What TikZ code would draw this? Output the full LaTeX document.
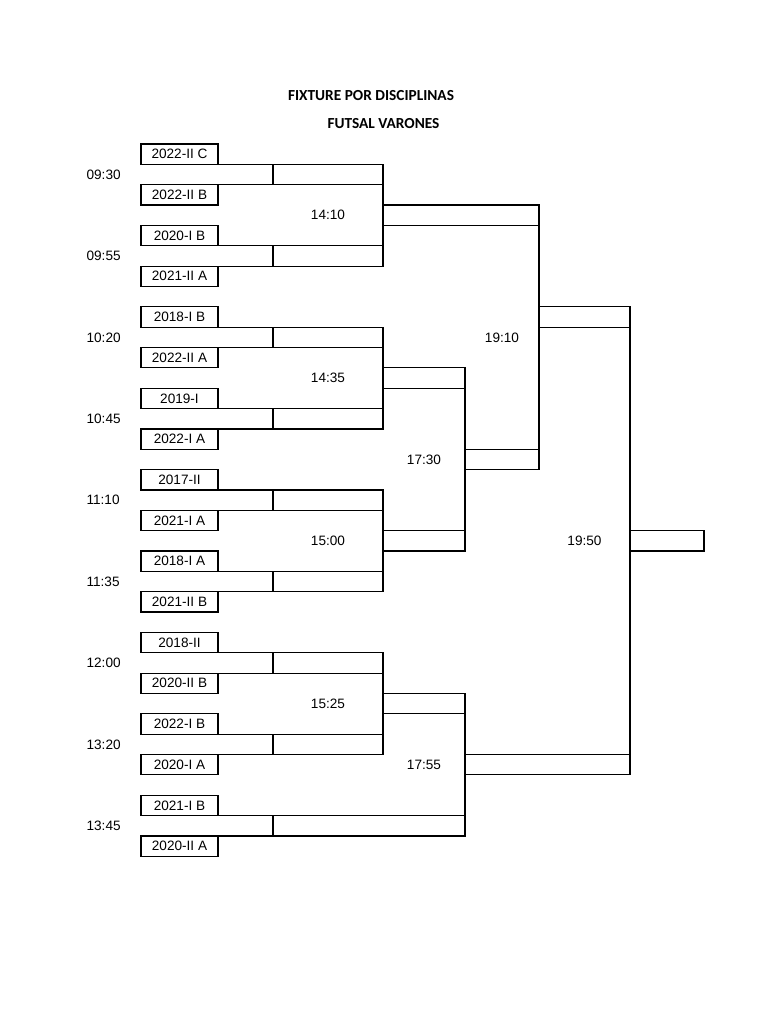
\documentclass[tikz,border=0pt]{standalone}
\usepackage{fontspec}
\setmainfont{Liberation Sans}
\newfontfamily\calib{Carlito}
\usetikzlibrary{positioning}

\begin{document}
\begin{tikzpicture}[x=0.75pt, y=-0.75pt, line width=0.9pt,
  team/.style={draw, minimum width=57.75pt, minimum height=15.26pt, inner sep=0pt, outer sep=0pt,
               font=\fontsize{10.2}{12}\selectfont},
  cell/.style={draw, minimum width=#1*0.75pt, minimum height=15.26pt, inner sep=0pt, outer sep=0pt},
  hora/.style={inner sep=0pt, font=\fontsize{10.2}{12}\selectfont},
  titulo/.style={inner sep=0pt, font=\calib\bfseries\fontsize{11.5}{14}\selectfont},
]
\def\rh{20.35}
\def\yo{154.175}
\useasboundingbox (0,0) rectangle (768,1024);

\node[titulo] (tit1) at (371,96)  {FIXTURE POR DISCIPLINAS};
\node[titulo] (tit2) at (383.5,124) {FUTSAL VARONES};

% equipos
\foreach \k/\n in {0/2022-II C,2/2022-II B,4/2020-I B,6/2021-II A,8/2018-I B,10/2022-II A,
                   12/2019-I,14/2022-I A,16/2017-II,18/2021-I A,20/2018-I A,22/2021-II B,
                   24/2018-II,26/2020-II B,28/2022-I B,30/2020-I A,32/2021-I B,34/2020-II A}
  \node[team] (t\k) at (179.5,{\yo+\rh*\k}) {\n};

% horas primera ronda
\foreach \k/\h in {1/09:30,5/09:55,9/10:20,13/10:45,17/11:10,21/11:35,25/12:00,29/13:20,33/13:45}
  \node[hora, anchor=west] (h\k) at (86,{\yo+\rh*\k}) {\h};

% primera ronda
\foreach \k in {1,5,9,13,17,21,25,29}
  \node[cell=110] (p\k) at (328,{\yo+\rh*\k}) {};
\node[cell=192] (p33) at (369,{\yo+\rh*33}) {};
\foreach \k in {1,5,9,13,17,21,25,29,33} {
  \pgfmathtruncatemacro\a{\k-1}
  \pgfmathtruncatemacro\b{\k+1}
  \draw (t\a.south east) -- (t\a.south east -| p\k.west);
  \draw (t\b.north east) -- (t\b.north east -| p\k.west);
}

% segunda ronda
\foreach \a/\b in {p1/p5,p9/p13,p17/p21,p25/p29}
  \draw (\a.north east) -- (\b.south east);
\node[cell=156] (q3)  at (461,{\yo+\rh*3})  {};
\node[cell=82]  (q11) at (424,{\yo+\rh*11}) {};
\node[cell=82]  (q19) at (424,{\yo+\rh*19}) {};
\node[cell=82]  (q27) at (424,{\yo+\rh*27}) {};

% semifinales y final
\draw (q11.north east) -- (q19.south east);
\draw (q27.north east) -- (p33.south east);
\node[cell=74]  (s15) at (502,{\yo+\rh*15})   {};
\node[cell=165] (s30) at (547.5,{\yo+\rh*30}) {};
\draw (q3.north east) -- (s15.south east);
\node[cell=91]  (u8)  at (584.5,{\yo+\rh*8})  {};
\draw (u8.north east) -- (s30.south east);
\node[cell=74]  (fin) at (667,{\yo+\rh*19})   {};

\foreach \x/\k/\h [count=\i] in {328/3/14:10,328/11/14:35,328/19/15:00,328/27/15:25,
                                 424/15/17:30,424/30/17:55,502/9/19:10,584.5/19/19:50}
  \node[hora] (m\i) at (\x,{\yo+\rh*\k}) {\h};
\end{tikzpicture}
\end{document}
